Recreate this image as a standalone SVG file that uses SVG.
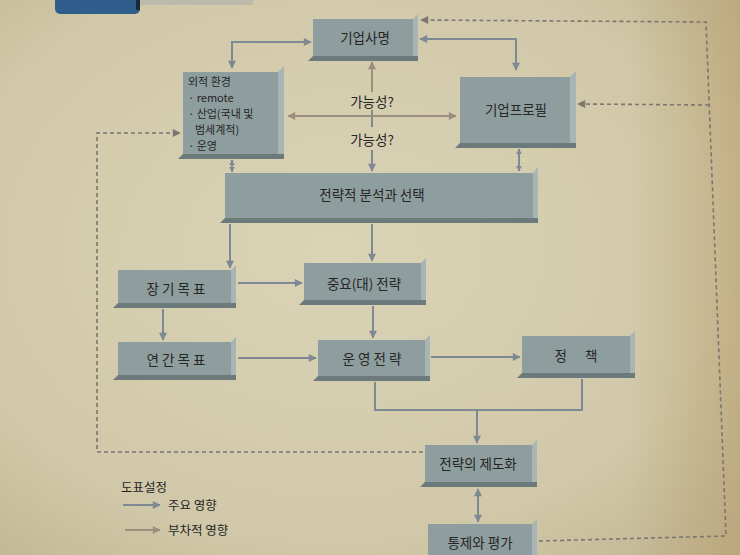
<svg xmlns="http://www.w3.org/2000/svg" width="740" height="555" viewBox="0 0 740 555">
<style>
.face{fill:#8e9d9e}
.br{fill:#a9b4b4}
.bb{fill:#6c7a7c}
.t{font-family:"Noto Sans CJK KR","Noto Sans",sans-serif;font-size:13.5px;fill:#262626;text-anchor:middle;dominant-baseline:central}
.tl{font-family:"Noto Sans CJK KR","Noto Sans",sans-serif;font-size:12.5px;fill:#262626}
.te{font-family:"Noto Sans CJK KR","Noto Sans",sans-serif;font-size:11px;fill:#262626}
.m{fill:none;stroke:#7e8994;stroke-width:2}
.s{fill:none;stroke:#9c8f7e;stroke-width:2}
.d{fill:none;stroke:#7c766f;stroke-width:1.6;stroke-dasharray:4 3}
</style>
<defs>
<radialGradient id="bg" cx="0.45" cy="0.45" r="0.75">
<stop offset="0" stop-color="#dad3b6"/>
<stop offset="0.7" stop-color="#d0c8a8"/>
<stop offset="1" stop-color="#c0b593"/>
</radialGradient>
<linearGradient id="edge" x1="0" y1="0" x2="1" y2="0">
<stop offset="0.85" stop-color="#b89a66" stop-opacity="0"/>
<stop offset="1" stop-color="#b89a66" stop-opacity="0.5"/>
</linearGradient>
<marker id="am" viewBox="0 0 10 10" refX="9" refY="5" markerWidth="9" markerHeight="8" markerUnits="userSpaceOnUse" orient="auto-start-reverse"><path d="M0,0 L10,5 L0,10 z" fill="#7e8994"/></marker>
<marker id="as" viewBox="0 0 10 10" refX="9" refY="5" markerWidth="9" markerHeight="8" markerUnits="userSpaceOnUse" orient="auto-start-reverse"><path d="M0,0 L10,5 L0,10 z" fill="#9c8f7e"/></marker>
<marker id="ad" viewBox="0 0 10 10" refX="9" refY="5" markerWidth="9" markerHeight="8" markerUnits="userSpaceOnUse" orient="auto-start-reverse"><path d="M0,0 L10,5 L0,10 z" fill="#7c766f"/></marker>
<marker id="ams" viewBox="0 0 10 10" refX="9" refY="5" markerWidth="6" markerHeight="6" markerUnits="userSpaceOnUse" orient="auto-start-reverse"><path d="M0,0 L10,5 L0,10 z" fill="#7e8994"/></marker>
</defs>
<rect width="740" height="555" fill="url(#bg)"/>
<rect width="740" height="555" fill="url(#edge)"/>
<g id="header">
<rect x="138" y="-4" width="115" height="9" fill="#bdb9ab"/>
<rect x="55" y="-12" width="85" height="26" rx="5" fill="#2f5e8d"/>
<rect x="136" y="-4" width="4" height="14" fill="#1e2a33"/>
</g>
<g id="connectors">
<path class="m" d="M232,68 V42 H311" marker-start="url(#am)" marker-end="url(#am)"/>
<path class="m" d="M516,70 V39 H420" marker-start="url(#am)" marker-end="url(#am)"/>
<path class="s" d="M372,92 V62" marker-end="url(#as)"/>
<path class="m" d="M372,110 V127"/>
<path class="s" d="M456,116 H288" marker-start="url(#as)" marker-end="url(#as)"/>
<path class="m" d="M372,150 V171" marker-end="url(#am)"/>
<path class="m" d="M232,160 V172" marker-start="url(#ams)" marker-end="url(#ams)"/>
<path class="m" d="M519,149 V171" marker-start="url(#ams)" marker-end="url(#ams)"/>
<path class="m" d="M230,224 V268" marker-end="url(#am)"/>
<path class="m" d="M372,224 V261" marker-end="url(#am)"/>
<path class="m" d="M238,283 H302" marker-end="url(#am)"/>
<path class="m" d="M163,309 V340" marker-end="url(#am)"/>
<path class="m" d="M373,306 V338" marker-end="url(#am)"/>
<path class="m" d="M238,358 H316" marker-end="url(#am)"/>
<path class="m" d="M431,357 H520" marker-end="url(#am)"/>
<path class="m" d="M375,382 V410 H582 V379"/>
<path class="m" d="M477,410 V443" marker-end="url(#am)"/>
<path class="m" d="M478,489 V522" marker-start="url(#am)" marker-end="url(#am)"/>
<path class="d" d="M423,452 H97 V133 H180" marker-end="url(#ad)"/>
<path class="d" d="M539,541 L726,536 L706,22 L421,20" marker-end="url(#ad)"/>
<path class="d" d="M709,105 L578,104" marker-end="url(#ad)"/>
<text class="t" x="372" y="101">가능성?</text>
<text class="t" x="372" y="139">가능성?</text>
</g>
<g id="mission">
<rect class="face" x="313" y="19" width="100" height="37"/>
<polygon class="br" points="413,19 418,14 418,56 413,56"/>
<polygon class="bb" points="313,56 418,56 418,61 308,61"/>
<text class="t" x="365" y="37">기업사명</text>
</g>
<g id="external">
<rect class="face" x="183" y="72" width="95" height="82"/>
<polygon class="br" points="278,72 284,66 284,154 278,154"/>
<polygon class="bb" points="183,154 284,154 284,159 178,159"/>
<text class="te" x="188" y="86">외적 환경</text>
<text class="te" x="188" y="102">· remote</text>
<text class="te" x="188" y="118">· 산업(국내 및</text>
<text class="te" x="195" y="134">범세계적)</text>
<text class="te" x="188" y="150">· 운영</text>
</g>
<g id="profile">
<rect class="face" x="460" y="77" width="110" height="66"/>
<polygon class="br" points="570,77 576,71 576,143 570,143"/>
<polygon class="bb" points="460,143 576,143 576,148 455,148"/>
<text class="t" x="516" y="109">기업프로필</text>
</g>
<g id="analysis">
<rect class="face" x="225" y="173" width="308" height="45"/>
<polygon class="br" points="533,173 538,167 538,218 533,218"/>
<polygon class="bb" points="225,218 538,218 538,223 220,223"/>
<text class="t" x="372" y="194">전략적 분석과 선택</text>
</g>
<g id="longterm">
<rect class="face" x="118" y="270" width="113" height="33"/>
<polygon class="br" points="231,270 236,265 236,303 231,303"/>
<polygon class="bb" points="118,303 236,303 236,308 113,308"/>
<text class="t" x="176" y="288">장 기 목 표</text>
</g>
<g id="grand">
<rect class="face" x="304" y="263" width="117" height="37"/>
<polygon class="br" points="421,263 426,258 426,300 421,300"/>
<polygon class="bb" points="304,300 426,300 426,305 299,305"/>
<text class="t" x="364" y="283">중요(대) 전략</text>
</g>
<g id="annual">
<rect class="face" x="118" y="342" width="113" height="33"/>
<polygon class="br" points="231,342 236,337 236,375 231,375"/>
<polygon class="bb" points="118,375 236,375 236,380 113,380"/>
<text class="t" x="176" y="359">연 간 목 표</text>
</g>
<g id="operating">
<rect class="face" x="318" y="340" width="107" height="36"/>
<polygon class="br" points="425,340 430,335 430,376 425,376"/>
<polygon class="bb" points="318,376 430,376 430,381 313,381"/>
<text class="t" x="372" y="358">운 영 전 략</text>
</g>
<g id="policy">
<rect class="face" x="522" y="336" width="108" height="37"/>
<polygon class="br" points="630,336 635,331 635,373 630,373"/>
<polygon class="bb" points="522,373 635,373 635,378 517,378"/>
<text class="t" x="576" y="355" xml:space="preserve">정      책</text>
</g>
<g id="institutionalization">
<rect class="face" x="425" y="445" width="107" height="37"/>
<polygon class="br" points="532,445 537,440 537,482 532,482"/>
<polygon class="bb" points="425,482 537,482 537,487 420,487"/>
<text class="t" x="478" y="463">전략의 제도화</text>
</g>
<g id="control">
<rect class="face" x="428" y="524" width="104" height="36"/>
<polygon class="br" points="532,524 537,519 537,560 532,560"/>
<text class="t" x="480" y="542">통제와 평가</text>
</g>
<g id="legend">
<text class="tl" x="121" y="492">도표설정</text>
<path class="m" d="M123,505 H160" marker-end="url(#am)"/>
<text class="tl" x="168" y="510">주요 영향</text>
<path class="s" d="M125,530 H160" marker-end="url(#as)"/>
<text class="tl" x="168" y="535">부차적 영향</text>
</g>
</svg>
